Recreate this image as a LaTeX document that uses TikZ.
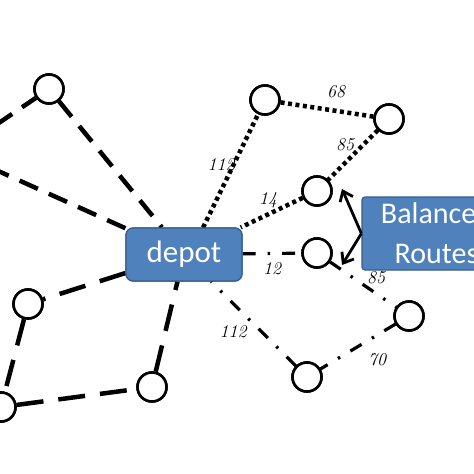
\documentclass[tikz,border=0pt]{standalone}
\usepackage{fontspec}
\newfontfamily\boxfont{Carlito}
\usepackage{xcolor}
\usetikzlibrary{arrows.meta}
\definecolor{boxblue}{HTML}{4F81BD}
\definecolor{boxedge}{HTML}{385D8A}
\tikzset{stop/.style={draw,circle,line width=2.6pt,fill=white,minimum size=29pt,inner sep=0pt},
    box/.style={draw=boxedge,fill=boxblue,text=white,line width=1.2pt,inner sep=1pt},
    routeA/.style={line width=4.5pt,dash pattern=on 20pt off 12pt},
    routeB/.style={line width=4.5pt,dash pattern=on 27pt off 15pt},
    routeC/.style={line width=4.5pt,dash pattern=on 4pt off 3.5pt},
    routeD/.style={line width=3.2pt,dash pattern=on 13pt off 12pt on 2.5pt off 12pt},
    cost/.style={font=\itshape\fontsize{18}{18}\selectfont,inner sep=0pt},
    pointer/.style={line width=2.8pt,-{Straight Barb[length=9pt,width=14pt]}},
    x=1pt,y=-1pt}

\begin{document}
\begin{tikzpicture}
\useasboundingbox (0,0) rectangle (474,474);
\clip (0,0) rectangle (474,474);

\node[box,rounded corners=7pt,minimum width=116pt,minimum height=53pt,
    font=\boxfont\fontsize{31}{33}\selectfont] (depot) at (184,254.5) {depot};
\node[box,rounded corners=3pt,minimum width=149pt,minimum height=73pt,align=center,
    font=\boxfont\fontsize{30}{40}\selectfont] (bal) at (436.5,233.5) {Balanced\\Routes};

\node[stop] (n0) at (-44,152) {};
\node[stop] (n1) at (49,89) {};
\node[stop] (n2) at (265,100) {};
\node[stop] (n3) at (389,119) {};
\node[stop] (n4) at (317,191) {};
\node[stop] (n5) at (317,253) {};
\node[stop] (n6) at (409,316) {};
\node[stop] (n7) at (307,377) {};
\node[stop] (n8) at (152,387) {};
\node[stop] (n9) at (28,304) {};
\node[stop] (n10) at (1,407) {};

\draw[routeA] (depot) -- (n0) -- (n1) -- (depot);
\draw[routeB] (depot) -- (n9) -- (n10) -- (n8) -- (depot);
\draw[routeC] (depot.center) ++(6,0) -- (n2) -- (n3) -- (n4) -- (depot);
\draw[routeD] (depot) -- (n5) -- (n6) -- (n7) -- (depot);

% redraw the boxes and stops over the lines
\node[box,rounded corners=7pt,minimum width=116pt,minimum height=53pt,
    font=\boxfont\fontsize{31}{33}\selectfont] at (depot) {depot};
\foreach \s in {n0,n1,n2,n3,n4,n5,n6,n7,n8,n9,n10}
    \node[stop] at (\s) {};

\node[cost] (c1) at (221,165) {112};
\node[cost] (c2) at (336,92) {68};
\node[cost] (c3) at (345,145) {85};
\node[cost] (c4) at (268,200) {14};
\node[cost] (c5) at (272,269) {12};
\node[cost] (c6) at (376,278) {85};
\node[cost] (c7) at (377,360) {70};
\node[cost] (c8) at (233,332) {112};

\coordinate (t4) at (342,189);
\coordinate (t5) at (342,265);
\draw[pointer] (bal.west) -- (t4);
\draw[pointer] (bal.west) -- (t5);
\end{tikzpicture}
\end{document}
